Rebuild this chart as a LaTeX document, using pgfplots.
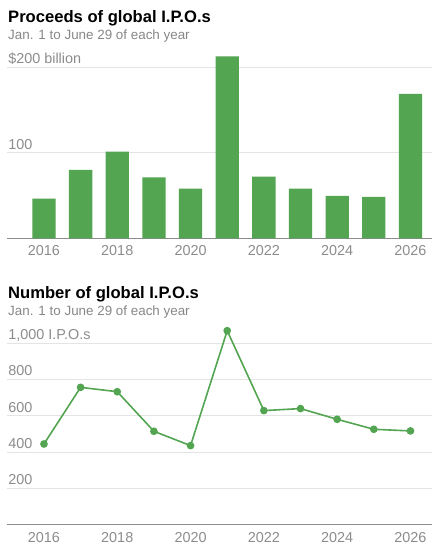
\documentclass[border=0pt]{standalone}
\usepackage{fontspec}
\setmainfont{Liberation Sans}
\usepackage{pgfplots}
\pgfplotsset{compat=1.18}
\definecolor{bargreen}{RGB}{83,165,82}
\definecolor{labgray}{RGB}{140,140,140}
\definecolor{subgray}{RGB}{135,135,135}
\definecolor{gridgray}{RGB}{228,228,228}
\definecolor{basegray}{RGB}{140,140,140}
\pgfplotsset{
  nytstyle/.style={
    scale only axis,
    width=424.4bp,
    xmin=2015, xmax=2026.58,
    ymin=0,
    clip=false,
    axis line style={draw=none},
    major tick length=0pt,
    xtick={2016,2018,2020,2022,2024,2026},
    xticklabels={2016,2018,2020,2022,2024,2026},
    xticklabel style={anchor=base, inner sep=0pt, yshift=-17.5bp, font=\fontsize{14.4bp}{16bp}\selectfont, text=labgray},
    yticklabel style={anchor=base west, inner sep=0pt, xshift=0.8bp, yshift=3.5bp, font=\fontsize{14.4bp}{16bp}\selectfont, text=labgray},
    ymajorgrids,
    grid style={draw=gridgray, line width=0.8bp},
    extra y ticks={0},
    extra y tick labels={},
    extra y tick style={grid style={draw=basegray, line width=1.1bp}},
  }
}
\begin{document}
\begin{tikzpicture}[x=1bp,y=1bp]
\useasboundingbox (0,0) rectangle (440,552);
% Top chart
\node[anchor=base west, inner sep=0pt, font=\bfseries\fontsize{16.6bp}{18bp}\selectfont] at (8,552-22.5) {Proceeds of global I.P.O.s};
\node[anchor=base west, inner sep=0pt, font=\fontsize{13.4bp}{15bp}\selectfont, text=subgray] at (8,552-40) {Jan. 1 to June 29 of each year};
\begin{axis}[nytstyle,
  at={(7.3bp,313.7bp)}, anchor=south west,
  height=183.8bp, ymax=215,
  ytick={100,200},
  yticklabels={100,\$200 billion},
]
\addplot[ybar, bar width=23.3bp, fill=bargreen, draw=none] coordinates {
(2016,46.3) (2017,79.9) (2018,101.3) (2019,71.3) (2020,58) (2021,212.9)
(2022,72) (2023,58) (2024,49.5) (2025,48.3) (2026,168.8)
};
\end{axis}
% Bottom chart
\node[anchor=base west, inner sep=0pt, font=\bfseries\fontsize{16.6bp}{18bp}\selectfont] at (8,552-298.3) {Number of global I.P.O.s};
\node[anchor=base west, inner sep=0pt, font=\fontsize{13.4bp}{15bp}\selectfont, text=subgray] at (8,552-316) {Jan. 1 to June 29 of each year};
\begin{axis}[nytstyle,
  at={(7.3bp,27.4bp)}, anchor=south west,
  height=199.7bp, ymax=1100,
  ytick={200,400,600,800,1000},
  yticklabels={200,400,600,800,{1,000 I.P.O.s}},
]
\addplot[color=bargreen, line width=1.6bp, mark=*, mark size=3bp, mark options={fill=bargreen, draw=bargreen}] coordinates {
(2016,444) (2017,756) (2018,732) (2019,514) (2020,435) (2021,1068)
(2022,628) (2023,639) (2024,580) (2025,525) (2026,516)
};
\end{axis}
\end{tikzpicture}
\end{document}
